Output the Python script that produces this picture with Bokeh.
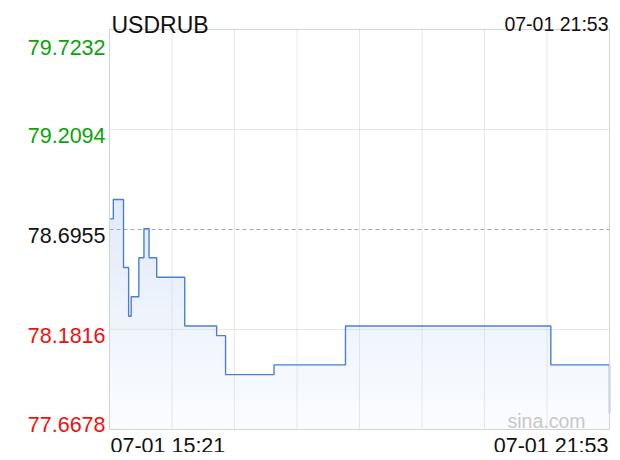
import numpy as np
import pandas as pd
from bokeh.plotting import figure
from bokeh.models import Range1d, Grid, Label
from bokeh.embed import file_html
from bokeh.resources import INLINE

# ---- data ----
symbol = "USDRUB"
date = "2024-07-01"
times = ["15:21", "15:24", "15:32", "15:36", "15:38", "15:44", "15:48", "15:52",
         "15:58", "16:20", "16:45", "16:52", "17:30", "18:26", "21:07", "21:53"]
values = [78.75, 78.85, 78.50, 78.25, 78.35, 78.55, 78.70, 78.55,
          78.45, 78.20, 78.15, 77.95, 78.00, 78.20, 78.00, 77.75]
prev_close = 78.6955
y_ticks = [79.7232, 79.2094, 78.6955, 78.1816, 77.6678]
y_tick_labels = ["79.7232", "79.2094", "78.6955", "78.1816", "77.6678"]
x_start_label = "07-01 15:21"
x_end_label = "07-01 21:53"
stamp_label = "07-01 21:53"

# ---- derived ----
ts = pd.to_datetime([f"{date} {t}" for t in times])
xs = (ts.astype("int64") // 10**6).to_numpy().astype(float)
vals = np.array(values)
x0, x1 = xs[0], xs[-1]
y_lo, y_hi = y_ticks[-1], y_ticks[0]

# layout: chart box from px 109..609 (x) and 29..429 (y) on a 612x452 canvas
W, H = 612, 452
BL, BR, BT, BB = 109, 3, 29, 23
dx = (x1 - x0) / (W - BL - BR)
dy = (y_hi - y_lo) / (H - BT - BB)

FONT = "Liberation Sans"
GREEN = "#0aa30a"
RED = "#f01010"
BLACK = "#111111"
LINE = "#4a7fd6"
GRID = "#d0d0d0"
TICK_FS = "21.5px"

p = figure(width=W, height=H, output_backend="svg", toolbar_location=None,
           x_axis_location=None, y_axis_location=None, title=None,
           x_range=Range1d(x0 - BL * dx, x1 + BR * dx),
           y_range=Range1d(y_lo - BB * dy, y_hi + BT * dy),
           min_border=0)
p.center = [r for r in p.center if not isinstance(r, Grid)]
p.outline_line_color = None
p.background_fill_color = "white"
p.border_fill_color = "white"

# gradient-like fill under the line: nested layers, top colour first
n_layers = 30
top_val = vals.max()
c_top = np.array([0xe2, 0xeb, 0xfa])
c_bot = np.array([0xfc, 0xfd, 0xff])
for k in range(n_layers, 0, -1):
    hi = y_lo + (top_val - y_lo) * k / n_layers
    f = k / n_layers
    c = (c_bot + (c_top - c_bot) * f).astype(int)
    col = "#%02x%02x%02x" % tuple(c)
    p.varea_step(x=xs, y1=np.full_like(vals, y_lo), y2=np.minimum(vals, hi),
                 step_mode="after", fill_color=col, fill_alpha=1.0)

# grid lines (8 vertical divisions, dotted horizontal at inner ticks)
vticks = [x0 + (x1 - x0) * i / 8 for i in range(1, 8)]
p.segment(x0=vticks, y0=[y_lo] * len(vticks), x1=vticks, y1=[y_hi] * len(vticks),
          line_color=GRID, line_dash="1 1", line_width=1)
hticks = [y_ticks[1], y_ticks[3]]
p.segment(x0=[x0] * 2, y0=hticks, x1=[x1] * 2, y1=hticks,
          line_color=GRID, line_dash="1 1", line_width=1)
p.segment(x0=[x0], y0=[prev_close], x1=[x1], y1=[prev_close],
          line_color="#a8a8a8", line_dash="4 3", line_width=1)

p.step(xs, vals, mode="after", line_color=LINE, line_width=1.4)

# chart box
p.quad(left=[x0], right=[x1], bottom=[y_lo], top=[y_hi],
       fill_color=None, line_color="#d4d4d4", line_width=1)

# y tick labels coloured vs previous close
n = len(y_ticks)
for i, (yv, txt) in enumerate(zip(y_ticks, y_tick_labels)):
    if i == 0:
        off = -18
    elif i == n - 1:
        off = 5
    else:
        off = -6
    if abs(yv - prev_close) < 1e-9:
        col = BLACK
    elif yv > prev_close:
        col = GREEN
    else:
        col = RED
    p.add_layout(Label(x=x0, y=yv, x_offset=-4, y_offset=off, text=txt,
                       text_align="right", text_baseline="alphabetic",
                       text_font=FONT, text_font_size=TICK_FS, text_color=col))

# title and timestamps
p.add_layout(Label(x=x0, y=y_hi, x_offset=2, y_offset=5, text=symbol,
                   text_align="left", text_baseline="alphabetic",
                   text_font=FONT, text_font_size="23px", text_color=BLACK))
p.add_layout(Label(x=x1, y=y_hi, x_offset=-1, y_offset=6, text=stamp_label,
                   text_align="right", text_baseline="alphabetic",
                   text_font=FONT, text_font_size="19.5px", text_color=BLACK))
p.add_layout(Label(x=x0, y=y_lo, x_offset=1, y_offset=-16, text=x_start_label,
                   text_align="left", text_baseline="alphabetic",
                   text_font=FONT, text_font_size=TICK_FS, text_color=BLACK))
p.add_layout(Label(x=x1, y=y_lo, x_offset=-1, y_offset=-16, text=x_end_label,
                   text_align="right", text_baseline="alphabetic",
                   text_font=FONT, text_font_size=TICK_FS, text_color=BLACK))
p.add_layout(Label(x=x1, y=y_lo, x_offset=-24, y_offset=9, text="sina.com",
                   text_align="right", text_baseline="alphabetic",
                   text_font=FONT, text_font_size="19.5px", text_color="#c8c8c8"))

open("out.html", "w").write(file_html(p, INLINE))
